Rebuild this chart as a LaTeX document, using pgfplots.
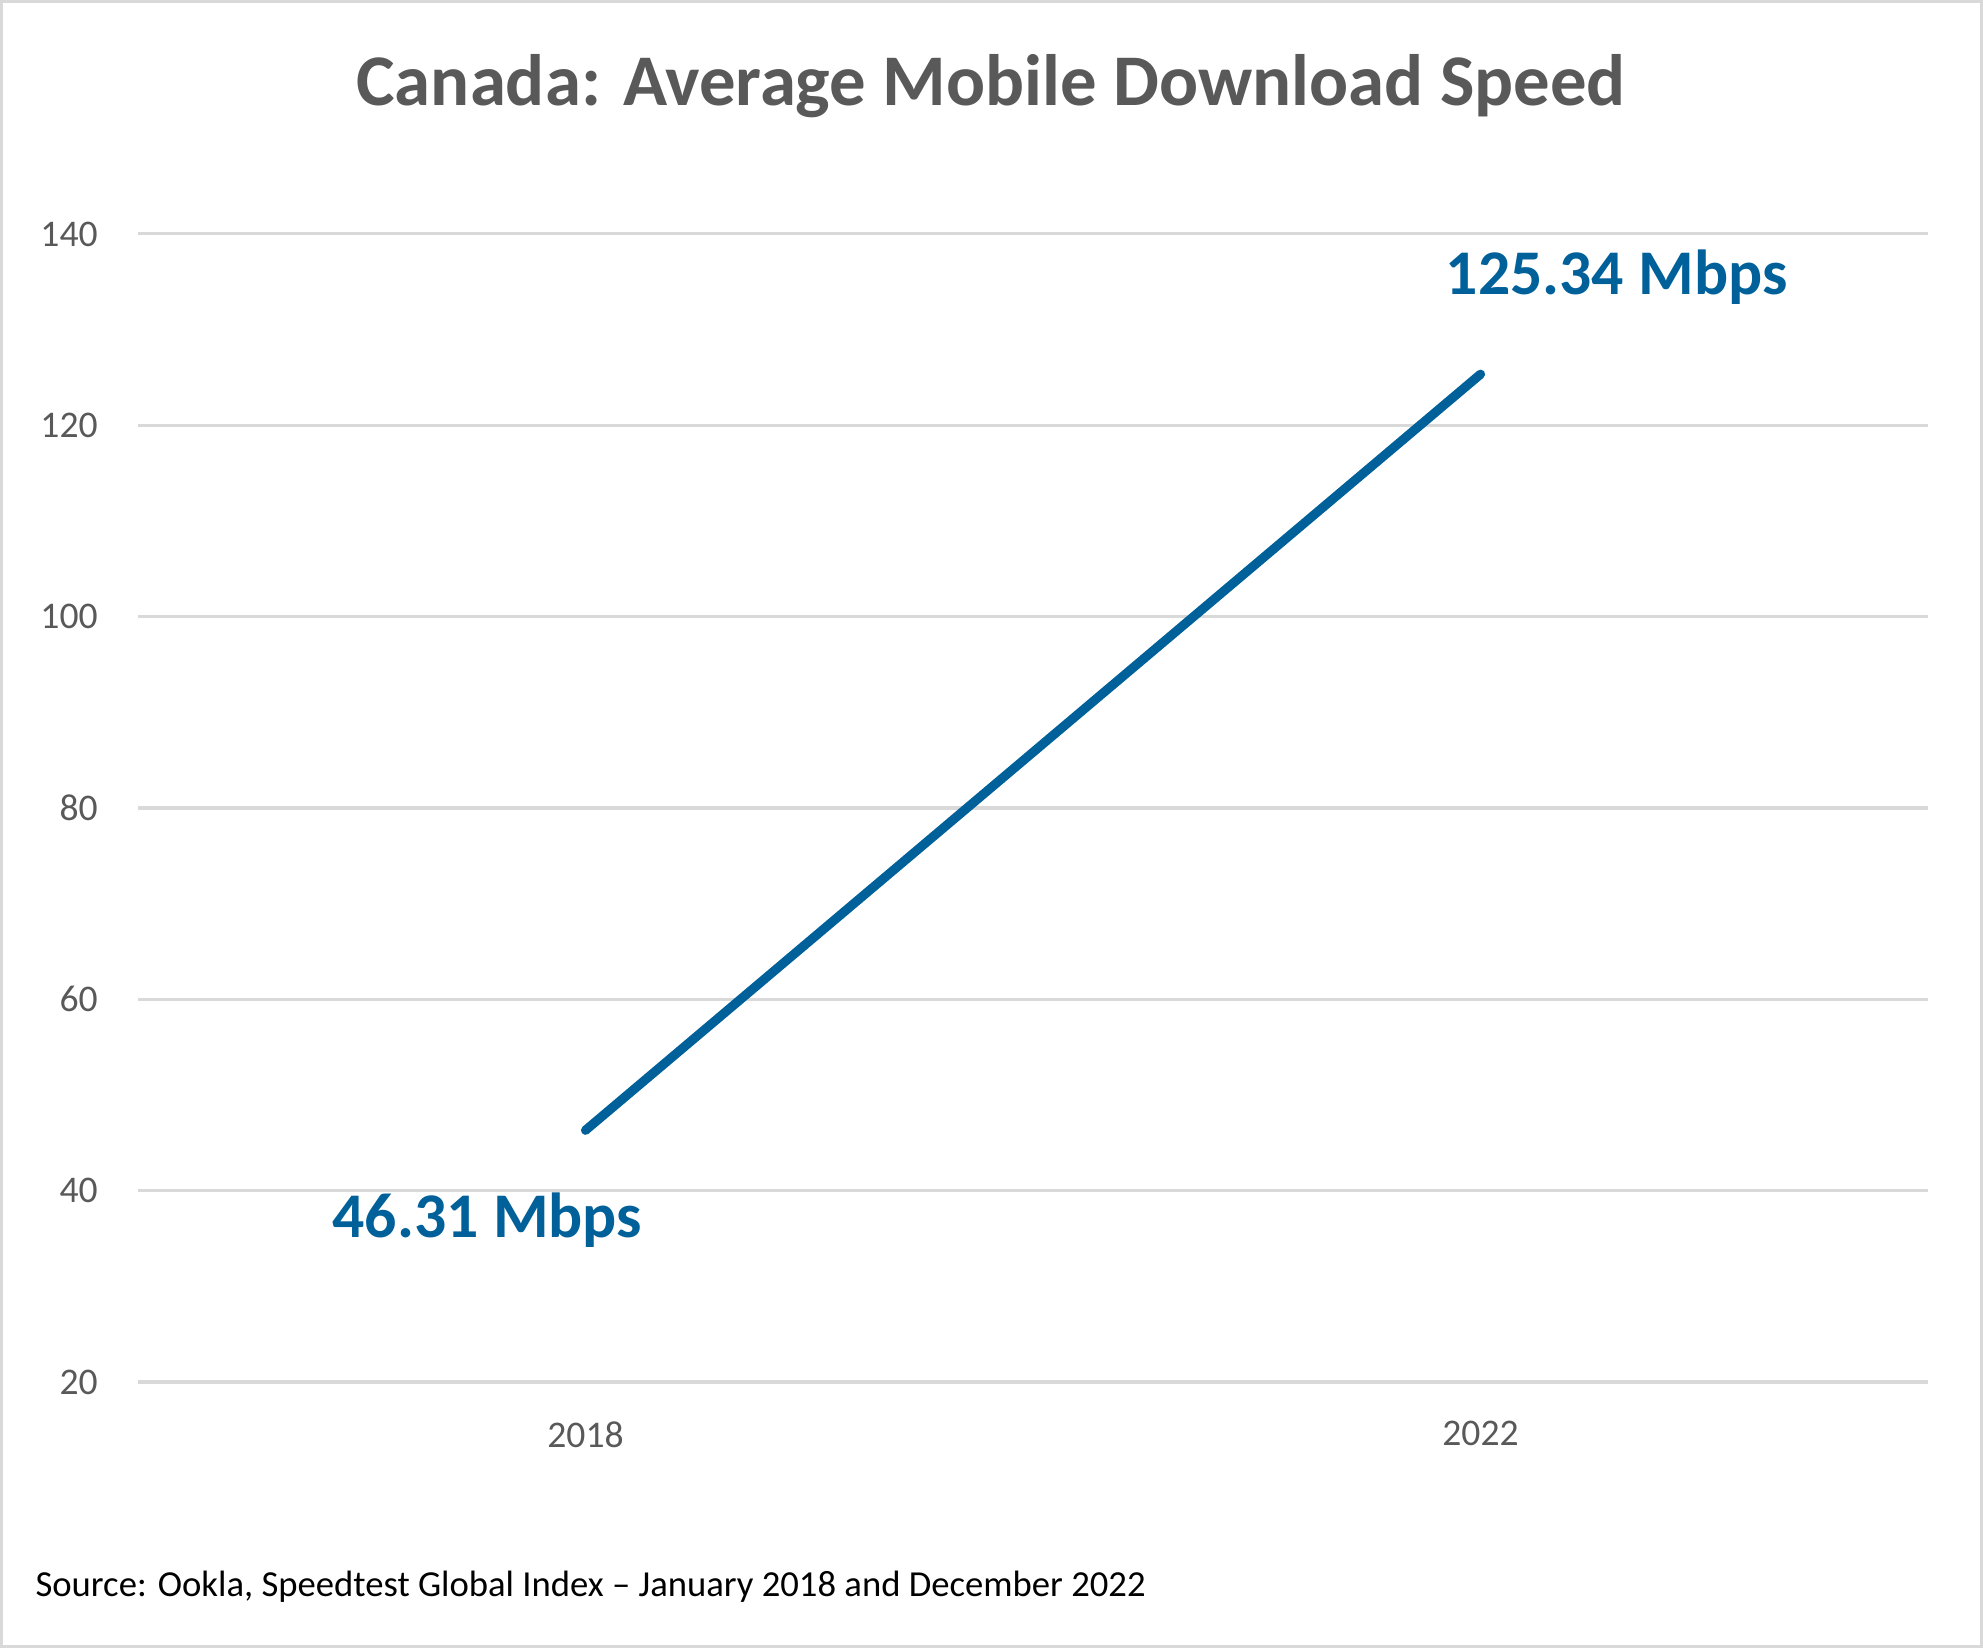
\documentclass[border=0pt]{standalone}
\usepackage{pgfplots}
\pgfplotsset{compat=1.18}
\usepackage{fontspec}
\setmainfont{Carlito}
\definecolor{linec}{HTML}{00609A}
\definecolor{gridc}{HTML}{D9D9D9}
\definecolor{txtc}{HTML}{595959}
\begin{document}
\begin{tikzpicture}[x=1bp,y=1bp]
\useasboundingbox (0,0) rectangle (713.88,593.28);
\draw[gridc,line width=1.1bp] (0.6,0.6) rectangle (713.28,592.68);
\node[font=\fontsize{26.3}{30}\selectfont\bfseries,text=txtc] at (356.8,562.4) {Canada: Average Mobile Download Speed};
\node[font=\fontsize{13.25}{15}\selectfont,anchor=west,inner sep=0pt] at (12.6,21.9) {Source: Ookla, Speedtest Global Index – January 2018 and December 2022};
\begin{axis}[
  at={(49.68bp,95.76bp)}, anchor=south west,
  scale only axis, width=644.4bp, height=413.28bp,
  xmin=-0.5, xmax=1.5, ymin=20, ymax=140,
  xtick={0,1}, xticklabels={2018,2022},
  ytick={20,40,...,140},
  axis line style={draw=none},
  major tick length=0pt,
  ymajorgrids, grid style={gridc,line width=1.1bp},
  tick label style={font=\fontsize{13.6}{16}\selectfont,text=txtc},
  /pgf/number format/assume math mode=true,
  yticklabel style={xshift=-11bp},
  xticklabel style={yshift=-10.7bp},
  clip=false,
]
\addplot[linec,line width=3.3bp,line cap=round] coordinates {(0,46.31) (1,125.34)};
\node[font=\fontsize{23}{26}\selectfont\bfseries,text=linec] at (axis cs:1,125.34) [xshift=49bp,yshift=35bp] {125.34 Mbps};
\node[font=\fontsize{23}{26}\selectfont\bfseries,text=linec] at (axis cs:0,46.31) [xshift=-35.3bp,yshift=-32.3bp] {46.31 Mbps};
\end{axis}
\end{tikzpicture}
\end{document}
